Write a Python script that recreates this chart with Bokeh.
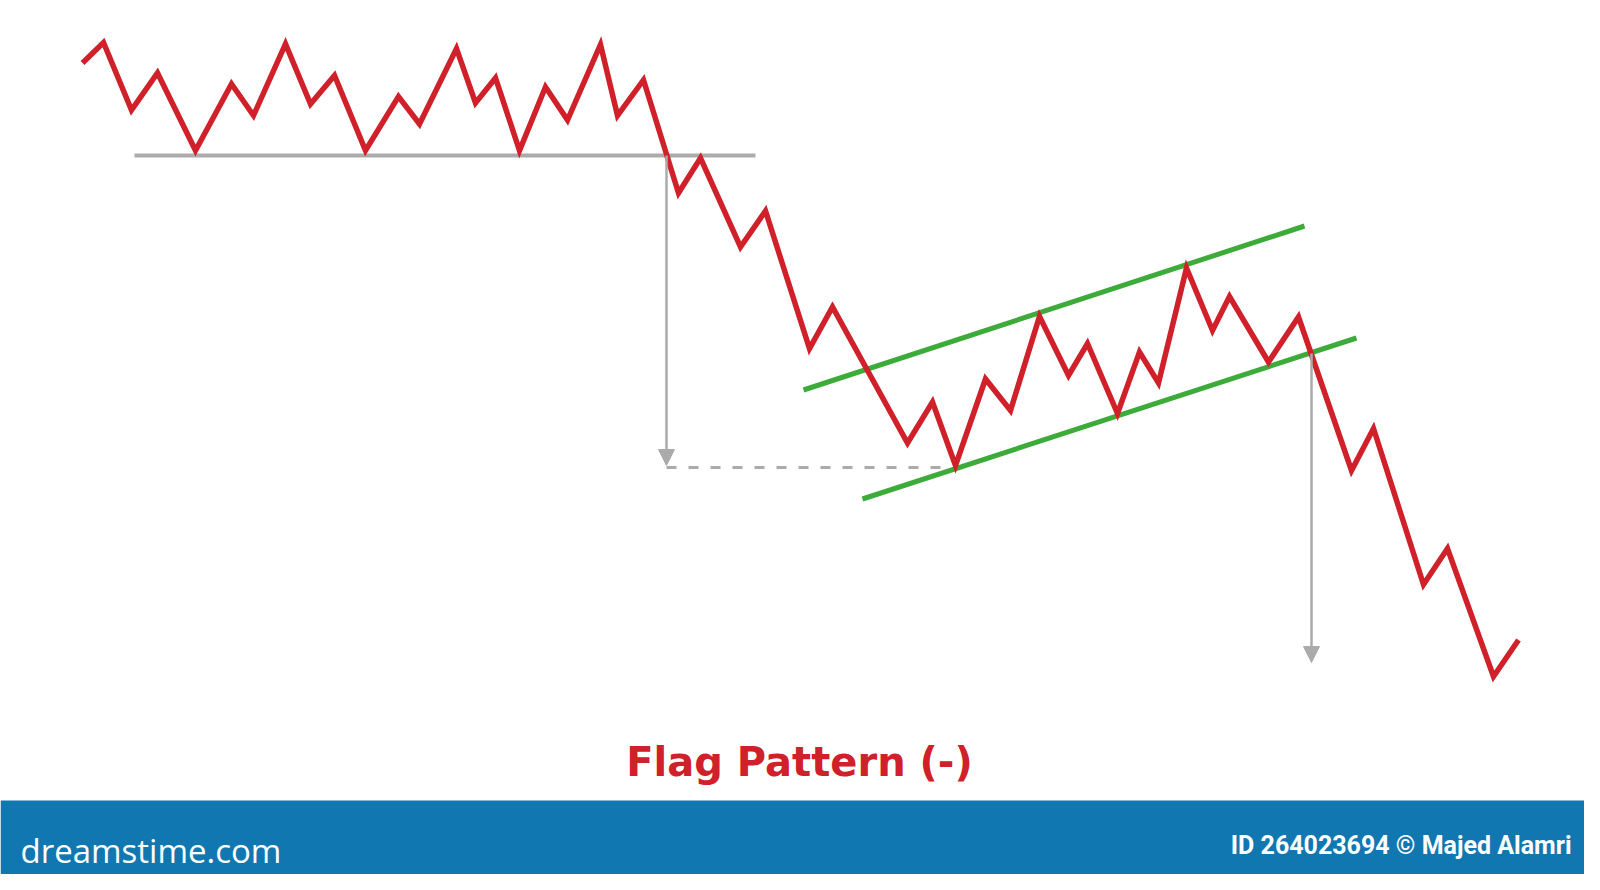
from bokeh.plotting import figure
from bokeh.models import Range1d, Arrow, NormalHead, BoxAnnotation
from bokeh.core.properties import value
from bokeh.embed import file_html
from bokeh.resources import INLINE

# ---- data (time units, price units) ----
price_t = [8.2, 10.3, 13.1, 15.7, 19.5, 23.1, 25.3, 28.5, 31.0, 33.4, 36.5, 39.8, 41.9,
           45.6, 47.5, 49.5, 51.9, 54.5, 56.7, 60.0, 61.7, 64.3, 67.8, 70.0, 74.0, 76.5,
           80.9, 83.2, 90.7, 93.2, 95.5, 98.5, 101.0, 103.9, 106.8, 108.7, 111.7, 113.9,
           115.8, 118.6, 121.2, 122.9, 126.8, 129.8, 135.1, 137.3, 142.3, 144.7, 149.3, 151.8]
price_v = [127.5, 131.6, 118.1, 125.5, 110.0, 123.3, 117.0, 131.3, 119.3, 125.0, 110.0,
           120.8, 115.3, 130.4, 119.5, 124.5, 110.0, 122.7, 116.1, 131.2, 117.0, 124.1,
           101.5, 108.5, 90.7, 97.9, 70.4, 78.7, 51.5, 59.7, 47.0, 64.3, 58.0, 76.8, 65.0,
           71.4, 57.4, 69.7, 63.5, 86.5, 74.0, 80.8, 67.7, 76.7, 46.0, 54.4, 23.2, 30.4,
           4.8, 12.1]

support_t = [13.4, 75.5]
support_v = [109.0, 109.0]

flag_upper_t = [80.3, 130.4]
flag_upper_v = [62.1, 94.9]
flag_lower_t = [86.2, 135.6]
flag_lower_v = [40.3, 72.5]

pole_arrow_t = 66.6
pole_arrow_v = [109.0, 47.0]
pole_dash_t = [66.6, 95.0]
pole_dash_v = [46.6, 46.6]
target_arrow_t = 131.1
target_arrow_v = [69.4, 7.6]

title_text = "Flag Pattern (-)"
title_pos = (79.9, -12.2)
band_bottom = -20.0
left_text = "dreamstime.com"
left_pos = (2.0, -29.95)
right_text = "ID 264023694 \u00a9 Majed Alamri"
right_pos = (157.1, -28.9)

RED = "#D0202A"
GREEN = "#3DAB3A"
GRAY = "#ABABAB"
BLUE = "#1177B0"

p = figure(width=1584, height=874, output_backend="svg", toolbar_location=None,
           x_range=Range1d(0.0, 158.4), y_range=Range1d(-34.8, 140.0),
           min_border=0, outline_line_color=None)
p.axis.visible = False
p.grid.visible = False
p.background_fill_color = "white"
p.border_fill_color = "white"

# bottom band
p.add_layout(BoxAnnotation(top=band_bottom, fill_color=BLUE, fill_alpha=1.0, line_alpha=0,
                           level="underlay"))

# support line
p.line(support_t, support_v, line_color=GRAY, line_width=4)

# dashed target line
p.line(pole_dash_t, pole_dash_v, line_color=GRAY, line_width=3, line_dash="10 12")

# arrows
for t, (v0, v1) in [(pole_arrow_t, pole_arrow_v), (target_arrow_t, target_arrow_v)]:
    p.add_layout(Arrow(end=NormalHead(size=16, fill_color=GRAY, fill_alpha=1.0,
                                      line_color=GRAY, line_width=1),
                       x_start=t, y_start=v0, x_end=t, y_end=v1,
                       line_color=GRAY, line_width=2.5))

# flag channel
p.line(flag_upper_t, flag_upper_v, line_color=GREEN, line_width=5)
p.line(flag_lower_t, flag_lower_v, line_color=GREEN, line_width=5)

# price line
p.line(price_t, price_v, line_color=RED, line_width=5.5, line_join="miter")

# title
p.text(x=[title_pos[0]], y=[title_pos[1]], text=[title_text], text_color=RED,
       text_font=value("DejaVu Sans"), text_font_style="bold", text_font_size="40px",
       text_align="center", text_baseline="alphabetic")

# footer texts
p.text(x=[left_pos[0]], y=[left_pos[1]], text=[left_text], text_color="white",
       text_font=value("Open Sans"), text_font_size="33px",
       text_align="left", text_baseline="alphabetic")
p.text(x=[right_pos[0]], y=[right_pos[1]], text=[right_text], text_color="white",
       text_font=value("Roboto"), text_font_style="bold", text_font_size="25px",
       text_align="right", text_baseline="alphabetic")

open("out.html", "w").write(file_html(p, INLINE))
